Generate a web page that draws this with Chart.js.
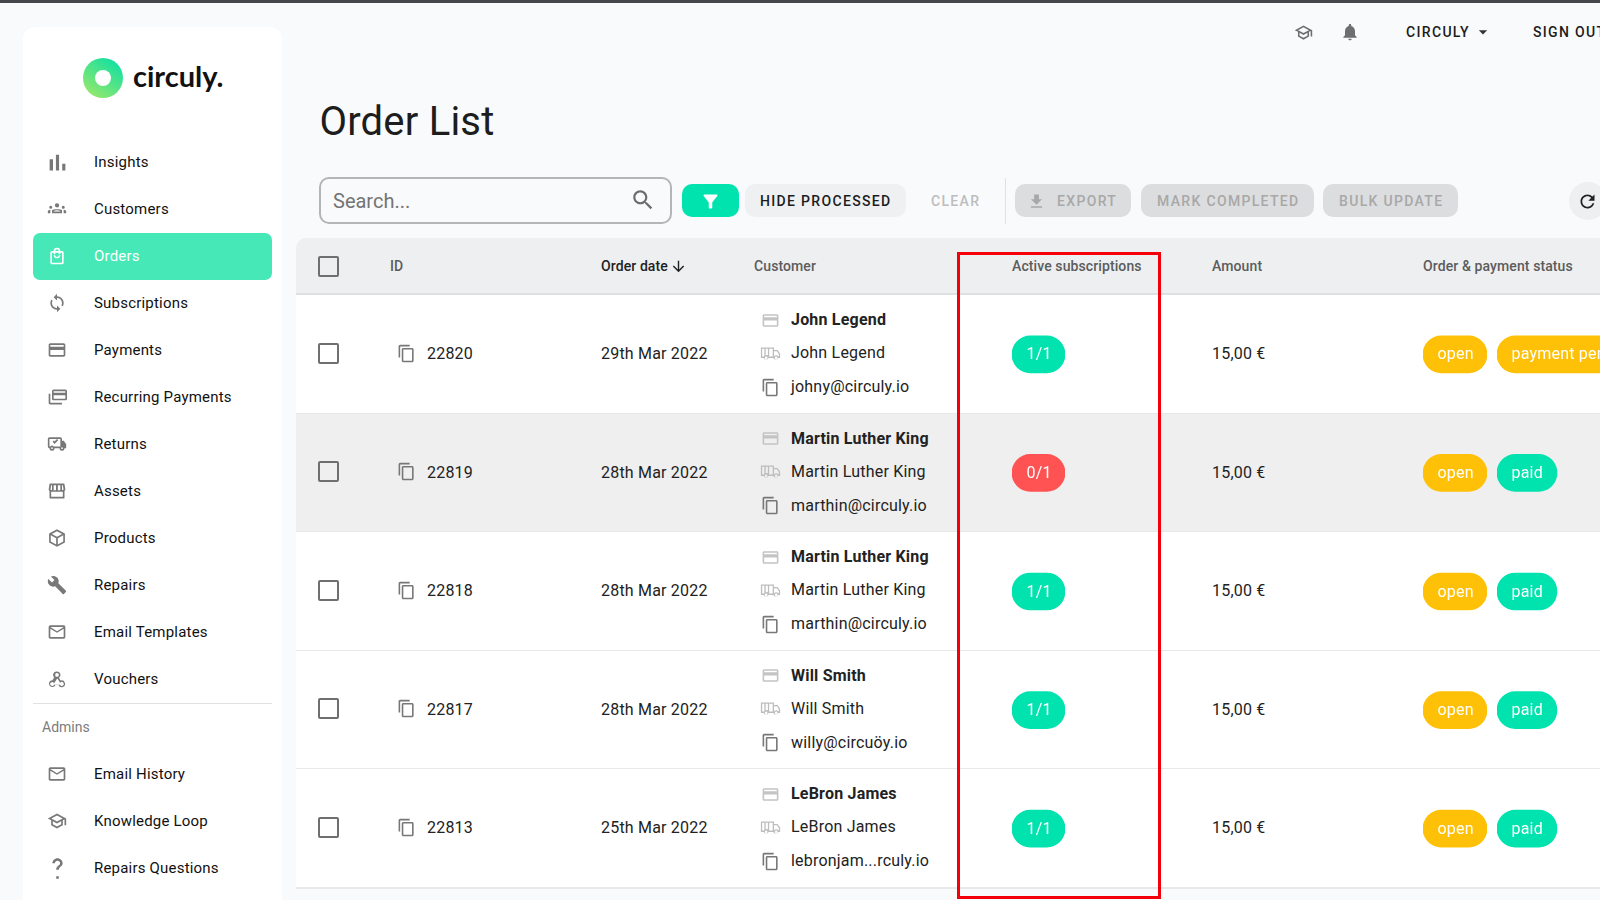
<!DOCTYPE html>
<html>
<head>
<meta charset="utf-8">
<title>Order List</title>
<script src="https://cdn.jsdelivr.net/npm/chart.js@4"></script>
<style>
  html, body { margin: 0; width: 1600px; height: 900px; overflow: hidden; background: #f9fafc; font-family: Roboto, sans-serif; color: #1c1c1c; }
  .abs { position: absolute; white-space: nowrap; }
  .mid { transform: translateY(-50%); }
  #topline { left: 0; top: 0; width: 1600px; height: 3px; background: #45474b; }
  #sidebar { left: 23px; top: 27px; width: 259px; height: 900px; background: #fff; border-radius: 12px; }
  #activeNav { left: 33px; top: 233px; width: 239px; height: 47px; background: #45e8b6; border-radius: 7px; }
  #navLine { left: 33px; top: 703px; width: 239px; height: 1px; background: #e2e2e2; }
  #ring { left: 83px; top: 58px; width: 40px; height: 40px; border-radius: 50%; background: linear-gradient(215deg, #00dfaa, #a6e964); }
  #ringHole { left: 95px; top: 70px; width: 16px; height: 16px; border-radius: 50%; background: #fff; }
  .nav { font-size: 15px; font-weight: 400; color: #111; letter-spacing: .2px; }
  .btn { height: 33px; top: 184px; border-radius: 10px; }
  .btnText { font-size: 14px; font-weight: 500; letter-spacing: 1.33px; }
  .th { font-size: 14px; font-weight: 500; color: #5c5c5c; letter-spacing: .1px; }
  .cell { font-size: 16px; letter-spacing: .2px; color: #222; }
  .box { width: 21px; height: 21px; box-sizing: border-box; border: 2.5px solid #6f6f6f; border-radius: 2px; }
  .row { left: 296px; width: 1304px; box-sizing: border-box; border-bottom: 2px solid #e8e8e8; }
  canvas { position: absolute; display: block; }
  #redBox { left: 957px; top: 252px; width: 204px; height: 647px; box-sizing: border-box; border: 3px solid #f4000b; }
</style>
</head>
<body>
<script>
// sidebar entries
const navItems = ["Insights", "Customers", "Orders", "Subscriptions", "Payments", "Recurring Payments", "Returns", "Assets", "Products", "Repairs", "Email Templates", "Vouchers"];
const adminItems = ["Email History", "Knowledge Loop", "Repairs Questions"];

// table rows
const orderIds = ["22820", "22819", "22818", "22817", "22813"];
const orderDates = ["29th Mar 2022", "28th Mar 2022", "28th Mar 2022", "28th Mar 2022", "25th Mar 2022"];
const billingNames = ["John Legend", "Martin Luther King", "Martin Luther King", "Will Smith", "LeBron James"];
const shippingNames = ["John Legend", "Martin Luther King", "Martin Luther King", "Will Smith", "LeBron James"];
const emails = ["johny@circuly.io", "marthin@circuly.io", "marthin@circuly.io", "willy@circuöy.io", "lebronjam...rculy.io"];
const amounts = ["15,00 €", "15,00 €", "15,00 €", "15,00 €", "15,00 €"];
const activeSubs = [1, 0, 1, 1, 1];
const totalSubs = [1, 1, 1, 1, 1];
const orderStatus = ["open", "open", "open", "open", "open"];
const paymentStatus = ["payment pending", "paid", "paid", "paid", "paid"];

const GREEN = "#00e3ae", RED = "#ff5353", YELLOW = "#ffc107";
const ROW_TOP = 295, ROW_H = 118.6;

// material style icon paths
const P = {
  bars: "M5 9.2h3V19H5zM10.6 5h2.8v14h-2.8zm5.6 8H19v6h-2.8z",
  card: "M20 4H4c-1.11 0-1.99.89-1.99 2L2 18c0 1.11.89 2 2 2h16c1.11 0 2-.89 2-2V6c0-1.11-.89-2-2-2zm0 14H4v-6h16v6zm0-10H4V6h16v2z",
  mail: "M20 4H4c-1.1 0-1.99.9-1.99 2L2 18c0 1.1.9 2 2 2h16c1.1 0 2-.9 2-2V6c0-1.1-.9-2-2-2zm0 14H4V8l8 5 8-5v10zm-8-7L4 6h16l-8 5z",
  copy: "M16 1H4c-1.1 0-2 .9-2 2v14h2V3h12V1zm3 4H8c-1.1 0-2 .9-2 2v14c0 1.1.9 2 2 2h11c1.1 0 2-.9 2-2V7c0-1.1-.9-2-2-2zm0 16H8V7h11v14z",
  search: "M15.5 14h-.79l-.28-.27C15.41 12.59 16 11.11 16 9.5 16 5.91 13.09 3 9.5 3S3 5.91 3 9.5 5.91 16 9.5 16c1.61 0 3.09-.59 4.23-1.57l.27.28v.79l5 4.99L20.49 19l-4.99-5zm-6 0C7.01 14 5 11.99 5 9.5S7.01 5 9.5 5 14 7.01 14 9.5 11.99 14 9.5 14z",
  bell: "M12 22c1.1 0 2-.9 2-2h-4c0 1.1.89 2 2 2zm6-6v-5c0-3.07-1.64-5.64-4.5-6.32V4c0-.83-.67-1.5-1.5-1.5s-1.5.67-1.5 1.5v.68C7.63 5.36 6 7.92 6 11v5l-2 2v1h16v-1l-2-2z",
  filter: "M4.25 5.61C6.27 8.2 10 13 10 13v6c0 .55.45 1 1 1h2c.55 0 1-.45 1-1v-6s3.72-4.8 5.74-7.39c.51-.66.04-1.61-.79-1.61H5.04c-.83 0-1.3.95-.79 1.61z",
  wrench: "M22.7 19l-9.1-9.1c.9-2.3.4-5-1.5-6.9-2-2-5-2.4-7.4-1.3L9 6 6 9 1.6 4.7C.4 7.1.9 10.1 2.9 12.1c1.9 1.9 4.6 2.4 6.9 1.5l9.1 9.1c.4.4 1 .4 1.4 0l2.3-2.3c.5-.4.5-1.1.1-1.4z",
  download: "M19 9h-4V3H9v6H5l7 7 7-7zM5 18v2h14v-2H5z",
  down: "M20 12l-1.41-1.41L13 16.17V4h-2v12.17l-5.58-5.59L4 12l8 8 8-8z",
  caret: "M7 10l5 5 5-5z",
  refresh: "M17.65 6.35C16.2 4.9 14.21 4 12 4c-4.42 0-7.99 3.58-7.99 8s3.57 8 7.99 8c3.73 0 6.84-2.55 7.73-6h-2.08c-.82 2.33-3.04 4-5.65 4-3.31 0-6-2.69-6-6s2.69-6 6-6c1.66 0 3.14.69 4.22 1.78L13 11h7V4l-2.35 2.35z",
  school: "M12 3L1 9l4 2.18v6L12 21l7-3.82v-6l2-1.09V17h2V9L12 3zm6.82 6L12 12.72 5.18 9 12 5.28 18.82 9zM17 15.99l-5 2.73-5-2.73v-3.72L12 15l5-2.73v3.72z",
  truck: "M1 5h15v3h4l3 4v5h-2.2a3 3 0 0 1-5.6 0H9.8a3 3 0 0 1-5.6 0H1V5zm1.5 1.5v9h1.7a3 3 0 0 1 .8-1V6.5H2.500zm4 0v7.600a3 3 0 0 1 2.500 0V6.500H6.500zm4 0v9h4v-9h-4zM16 9.500V15h.2a3 3 0 0 1 4.600 0h.7v-2.500l-2.200-3H16zM7 15.500a1.500 1.500 0 1 0 0 3 1.500 1.500 0 0 0 0-3zm11.500 0a1.500 1.500 0 1 0 0 3 1.500 1.500 0 0 0 0-3z",
  loop: "M12 4V1L8 5l4 4V6c3.31 0 6 2.69 6 6 0 1.01-.25 1.97-.7 2.8l1.46 1.46C19.54 15.03 20 13.57 20 12c0-4.42-3.58-8-8-8zm0 14c-3.31 0-6-2.69-6-6 0-1.01.25-1.97.7-2.8L5.24 7.74C4.46 8.97 4 10.43 4 12c0 4.42 3.58 8 8 8v3l4-4-4-4v3z",
  help: "M11 18h2v2h-2zM12 4C9.8 4 8 5.8 8 8h2c0-1.1.9-2 2-2s2 .9 2 2c0 2-3 1.75-3 5h2c0-2.25 3-2.5 3-5 0-2.2-1.8-4-4-4z",
  people: "M12 5a2.6 2.6 0 1 1 0 5.2A2.6 2.6 0 0 1 12 5zM6 13.500c1.600-1.600 10.400-1.600 12 0V17H6v-3.500zm2 1.600h8v-.8c-2-.9-6-.9-8 0v.8zM1 17v-2c0-1 1-1.600 3-2v4H1zm22 0v-2c0-1-1-1.600-3-2v4h3zM4.500 8a1.800 1.800 0 1 1 0 3.600 1.800 1.800 0 0 1 0-3.600zm15 0a1.800 1.800 0 1 1 0 3.600 1.800 1.800 0 0 1 0-3.600z",
  bag: "M18 6h-2a4 4 0 0 0-8 0H6a2 2 0 0 0-2 2v12a2 2 0 0 0 2 2h12a2 2 0 0 0 2-2V8a2 2 0 0 0-2-2zm-6-2a2 2 0 0 1 2 2h-4a2 2 0 0 1 2-2zm6 16H6V8h2v2h2V8h4v2h2V8h2v12z M8 11c0 5 8 5 8 0h-1.800c0 2.600-4.400 2.600-4.400 0z",
  stack: "M22 3H8c-1.100 0-2 .9-2 2v9c0 1.100.9 2 2 2h14c1.100 0 2-.9 2-2V5c0-1.100-.9-2-2-2zm0 11H8v-4h14v4zm0-7H8V5h14v2zM4 8H2v11c0 1.100.9 2 2 2h14v-2H4V8z",
  returns: "M3 4h13a2 2 0 0 1 2 2v2h2l3 4v5h-2a3 3 0 0 1-6 0H9a3 3 0 0 1-6 0 2 2 0 0 1-2-2V6a2 2 0 0 1 2-2zm0 2v9h.8a3 3 0 0 1 4.400 0H16V6H3zm4 3l1.400-1.400L9 9l3-3 1.400 1.400L9 12 7 9.700zM6 16a1 1 0 1 0 0 2 1 1 0 0 0 0-2zm12 0a1 1 0 1 0 0 2 1 1 0 0 0 0-2z",
  store: "M4 3h16a1 1 0 0 1 1 1l1 6c0 1-.5 1.700-1 2.200V20a1 1 0 0 1-1 1H4a1 1 0 0 1-1-1v-7.800c-.5-.5-1-1.200-1-2.200l1-6a1 1 0 0 1 1-1zm1 10v6h14v-6H5zm0-8l-.9 5.200L6 11V5H5zm3 0v6h2.800V5H8zm5 0v6h3V5h-3zm5 0v6l1.900-.8L19 5h-1z",
  box: "M12 1.500l9.500 5.200v10.600L12 22.500l-9.500-5.200V6.700L12 1.500zm0 2.300L5.900 7.100l6.100 3.400 6.100-3.400L12 3.800zM4.500 8.800v7.300l6.500 3.600v-7.300L4.500 8.800zm15 0L13 12.400v7.300l6.500-3.600V8.800z",
  hook: "M12 2a4.500 4.500 0 0 1 2.600 8.200l2.200 3.900a4.500 4.500 0 1 1-2.800 6H10a4.500 4.500 0 1 1-4-6.400l2.300-3.900A4.500 4.500 0 0 1 12 2zm0 2a2.500 2.500 0 1 0 0 5 2.500 2.500 0 0 0 0-5zM12 11.500l-3.700 6.200h-.4a2.500 2.500 0 1 0 0 1.900h8.200a2.500 2.500 0 1 0 .2-2.400l-3.400-5.700H12z"
};
const navIcons = ["bars", "people", "bag", "loop", "card", "stack", "returns", "store", "box", "wrench", "mail", "hook"];
const adminIcons = ["mail", "school", "help"];
const iconSizes = { bars: 27, help: 31, hook: 18 };

function el(cls, text, x, y, css) {
  const d = document.createElement("div");
  d.className = "abs " + cls;
  if (text) d.textContent = text;
  if (x !== null) d.style.left = x + "px";
  if (y !== null) d.style.top = y + "px";
  if (css) d.style.cssText += css;
  document.body.appendChild(d);
  return d;
}

function icon(name, cx, cy, size, color) {
  const ns = "http://www.w3.org/2000/svg";
  const s = document.createElementNS(ns, "svg");
  s.setAttribute("viewBox", "0 0 24 24");
  s.setAttribute("width", size);
  s.setAttribute("height", size);
  s.style.cssText = `position:absolute;left:${cx - size / 2}px;top:${cy - size / 2}px`;
  const p = document.createElementNS(ns, "path");
  p.setAttribute("d", P[name]);
  p.setAttribute("fill", color);
  p.setAttribute("fill-rule", "evenodd");
  s.appendChild(p);
  document.body.appendChild(s);
}

// page chrome
el("", "", null, null).id = "topline";
el("", "", null, null).id = "sidebar";
el("", "", null, null).id = "ring";
el("", "", null, null).id = "ringHole";
el("mid", "circuly.", 133, 75, "font-family:Lato,sans-serif;font-weight:700;font-size:29px;color:#111");
el("", "", null, null).id = "activeNav";
el("", "", null, null).id = "navLine";

navItems.forEach((t, i) => {
  const y = 162 + i * 47, on = t === "Orders", name = navIcons[i];
  icon(name, 57, y, iconSizes[name] || 20, on ? "#fff" : "#787878");
  el("nav mid", t, 94, y, on ? "color:#fff" : "");
});
el("mid", "Admins", 42, 727, "font-size:14px;color:#7c7c7c");
adminItems.forEach((t, i) => {
  const y = 774 + i * 47, name = adminIcons[i];
  icon(name, 57, y, iconSizes[name] || 20, "#787878");
  el("nav mid", t, 94, y);
});

// top right
icon("school", 1303, 32, 19, "#6e6e6e");
icon("bell", 1350, 32, 20, "#6e6e6e");
el("btnText mid", "CIRCULY", 1406, 32);
icon("caret", 1483, 32, 20, "#333");
el("btnText mid", "SIGN OUT", 1533, 32);
el("mid", "Order List", 319.5, 121, "font-size:40px;color:#1d1d1d;letter-spacing:.2px");

// toolbar
el("", "", 319, 177, "width:353px;height:47px;box-sizing:border-box;border:2px solid #b4b5b7;border-radius:10px");
el("mid", "Search...", 333, 201, "font-size:20px;color:#747474");
icon("search", 643, 200, 26, "#6c6c6c");
el("btn", "", 682, null, "width:57px;background:" + GREEN);
icon("filter", 710, 201, 21, "#fff");
el("btn", "", 745, null, "width:161px;background:#eff0f2");
el("btnText mid", "HIDE PROCESSED", 760, 201, "color:#1c1c1c");
el("btnText mid", "CLEAR", 931, 201, "color:#bdbdbd");
el("", "", 1005, 178, "width:1px;height:46px;background:#dfe0e2");
el("btn", "", 1015, null, "width:116px;background:#dcdddf");
icon("download", 1036, 201, 19, "#a8a8a8");
el("btnText mid", "EXPORT", 1057, 201, "color:#a8a8a8");
el("btn", "", 1141, null, "width:173px;background:#dcdddf");
el("btnText mid", "MARK COMPLETED", 1157, 201, "color:#a8a8a8");
el("btn", "", 1323, null, "width:135px;background:#dcdddf");
el("btnText mid", "BULK UPDATE", 1339, 201, "color:#a8a8a8");
el("", "", 1569, 182, "width:38px;height:38px;border-radius:50%;background:#eeeff1");
icon("refresh", 1587, 201, 21, "#222");

// table head
el("", "", 296, 238, "width:1304px;height:57px;box-sizing:border-box;background:#eeeff1;border-bottom:2px solid #dfe0e2;border-top-left-radius:10px");
el("box", "", 318, 255.5);
el("th mid", "ID", 390, 266);
el("th mid", "Order date", 601, 266, "color:#222");
icon("down", 678, 266, 17, "#222");
el("th mid", "Customer", 754, 266);
el("th mid", "Active subscriptions", 1012, 266);
el("th mid", "Amount", 1212, 266);
el("th mid", "Order & payment status", 1423, 266);

// table rows
orderIds.forEach((id, i) => {
  const top = ROW_TOP + i * ROW_H, cy = top + ROW_H / 2 - 1.3;
  el("row", "", null, top, `height:${ROW_H + 1}px;background:${i === 1 ? "#efefef" : "#fff"}`);
  el("box", "", 318, cy - 10.5);
  icon("copy", 406, cy, 19, "#777");
  el("cell mid", id, 427, cy);
  el("cell mid", orderDates[i], 601, cy);
  icon("card", 770, top + 25, 19, "#c4c4c4");
  el("cell mid", billingNames[i], 791, top + 24, "font-weight:700;letter-spacing:.2px");
  icon("truck", 770, top + 58, 21, "#bdbdbd");
  el("cell mid", shippingNames[i], 791, top + 57);
  icon("copy", 770, top + 92, 19, "#777");
  el("cell mid", emails[i], 791, top + 91);
  el("cell mid", amounts[i], 1212, cy);
});

// text inside the pills
const pillLabels = {
  id: "pillLabels",
  afterDatasetsDraw(chart, args, opts) {
    const ctx = chart.ctx;
    ctx.save();
    ctx.font = "400 16px Roboto";
    ctx.letterSpacing = "0.2px";
    ctx.fillStyle = "#fff";
    ctx.textBaseline = "middle";
    chart.getDatasetMeta(0).data.forEach((bar, i) => {
      ctx.fillText(opts.texts[i], bar.base + 14.5, bar.y + 1);
    });
    ctx.restore();
  }
};

// one column of status pills: a horizontal bar per table row
function pillColumn(x, width, values, axisMax, colors, texts) {
  const c = document.createElement("canvas");
  c.width = width;
  c.height = Math.round(ROW_H * orderIds.length);
  c.style.left = x + "px";
  c.style.top = ROW_TOP - 0.5 + "px";
  document.body.appendChild(c);
  new Chart(c, {
    type: "bar",
    data: {
      labels: orderIds,
      datasets: [{ data: values, backgroundColor: colors, barThickness: 37, borderRadius: 18.5, borderSkipped: false }]
    },
    plugins: [pillLabels],
    options: {
      indexAxis: "y",
      responsive: false,
      animation: false,
      layout: { padding: 0 },
      scales: {
        x: { display: false, min: 0, max: axisMax },
        y: { display: false }
      },
      plugins: { legend: { display: false }, tooltip: { enabled: false }, pillLabels: { texts: texts } }
    }
  });
}

pillColumn(1012, 53, totalSubs, 1, activeSubs.map(a => a > 0 ? GREEN : RED), activeSubs.map((a, i) => a + "/" + totalSubs[i]));
pillColumn(1423, 64, orderStatus.map(() => 1), 1, orderStatus.map(() => YELLOW), orderStatus);
// bar length follows the word length, the column runs off the page like the screenshot
pillColumn(1497, 103, paymentStatus.map(s => s.length), 6.87, paymentStatus.map(s => s === "paid" ? GREEN : YELLOW), paymentStatus);

el("", "", null, null).id = "redBox";
</script>
</body>
</html>
